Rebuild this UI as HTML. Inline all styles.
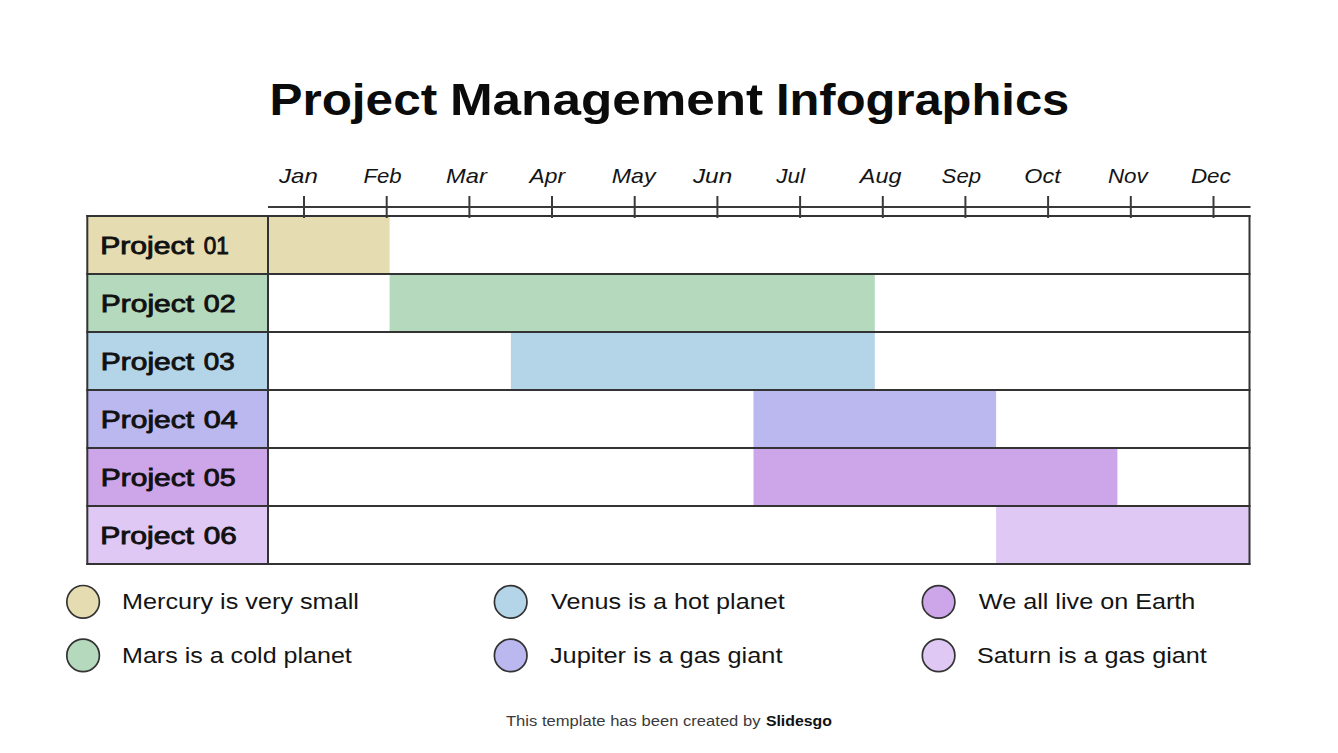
<!DOCTYPE html>
<html><head><meta charset="utf-8"><title>Project Management Infographics</title>
<style>
html,body{margin:0;padding:0;background:#fff;width:1338px;height:753px;overflow:hidden;}
svg{display:block;font-family:"Liberation Sans", sans-serif;}
</style></head><body>
<svg width="1338" height="753" viewBox="0 0 1338 753">
<rect width="1338" height="753" fill="#fff"/>
<rect x="87" y="216" width="181" height="58" fill="#E6DCB1"/>
<rect x="268.0" y="216" width="121.6" height="58" fill="#E6DCB1"/>
<rect x="87" y="274" width="181" height="58" fill="#B5D9BD"/>
<rect x="389.6" y="274" width="485.2" height="58" fill="#B5D9BD"/>
<rect x="87" y="332" width="181" height="58" fill="#B4D4E8"/>
<rect x="510.9" y="332" width="363.9" height="58" fill="#B4D4E8"/>
<rect x="87" y="390" width="181" height="58" fill="#BAB8EE"/>
<rect x="753.5" y="390" width="242.6" height="58" fill="#BAB8EE"/>
<rect x="87" y="448" width="181" height="58" fill="#CDA5E9"/>
<rect x="753.5" y="448" width="363.9" height="58" fill="#CDA5E9"/>
<rect x="87" y="506" width="181" height="58" fill="#DFC8F4"/>
<rect x="996.1" y="506" width="253.9" height="58" fill="#DFC8F4"/>
<line x1="86.3" y1="216" x2="1250.5" y2="216" stroke="#333" stroke-width="2"/>
<line x1="86.3" y1="274" x2="1250.5" y2="274" stroke="#333" stroke-width="2"/>
<line x1="86.3" y1="332" x2="1250.5" y2="332" stroke="#333" stroke-width="2"/>
<line x1="86.3" y1="390" x2="1250.5" y2="390" stroke="#333" stroke-width="2"/>
<line x1="86.3" y1="448" x2="1250.5" y2="448" stroke="#333" stroke-width="2"/>
<line x1="86.3" y1="506" x2="1250.5" y2="506" stroke="#333" stroke-width="2"/>
<line x1="86.3" y1="564" x2="1250.5" y2="564" stroke="#333" stroke-width="2"/>
<line x1="87.3" y1="215" x2="87.3" y2="565" stroke="#333" stroke-width="2"/>
<line x1="268" y1="215" x2="268" y2="565" stroke="#333" stroke-width="2"/>
<line x1="1249.5" y1="215" x2="1249.5" y2="565" stroke="#333" stroke-width="2"/>
<line x1="268" y1="207" x2="1250.5" y2="207" stroke="#3a3a3a" stroke-width="2"/>
<line x1="304.0" y1="196" x2="304.0" y2="218" stroke="#3a3a3a" stroke-width="2"/>
<line x1="386.7" y1="196" x2="386.7" y2="218" stroke="#3a3a3a" stroke-width="2"/>
<line x1="469.4" y1="196" x2="469.4" y2="218" stroke="#3a3a3a" stroke-width="2"/>
<line x1="552.0" y1="196" x2="552.0" y2="218" stroke="#3a3a3a" stroke-width="2"/>
<line x1="634.7" y1="196" x2="634.7" y2="218" stroke="#3a3a3a" stroke-width="2"/>
<line x1="717.4" y1="196" x2="717.4" y2="218" stroke="#3a3a3a" stroke-width="2"/>
<line x1="800.1" y1="196" x2="800.1" y2="218" stroke="#3a3a3a" stroke-width="2"/>
<line x1="882.8" y1="196" x2="882.8" y2="218" stroke="#3a3a3a" stroke-width="2"/>
<line x1="965.4" y1="196" x2="965.4" y2="218" stroke="#3a3a3a" stroke-width="2"/>
<line x1="1048.1" y1="196" x2="1048.1" y2="218" stroke="#3a3a3a" stroke-width="2"/>
<line x1="1130.8" y1="196" x2="1130.8" y2="218" stroke="#3a3a3a" stroke-width="2"/>
<line x1="1213.5" y1="196" x2="1213.5" y2="218" stroke="#3a3a3a" stroke-width="2"/>
<circle cx="83.1" cy="601.8" r="16.3" fill="#E6DCB1" stroke="#333" stroke-width="1.7"/>
<circle cx="83.1" cy="655.4" r="16.3" fill="#B5D9BD" stroke="#333" stroke-width="1.7"/>
<circle cx="510.7" cy="601.9" r="16.3" fill="#B4D4E8" stroke="#333" stroke-width="1.7"/>
<circle cx="510.7" cy="655.4" r="16.3" fill="#BAB8EE" stroke="#333" stroke-width="1.7"/>
<circle cx="938.6" cy="601.9" r="16.3" fill="#CDA5E9" stroke="#333" stroke-width="1.7"/>
<circle cx="938.6" cy="655.4" r="16.3" fill="#DFC8F4" stroke="#333" stroke-width="1.7"/>
<text x="269.42" y="115.4" font-size="45.2" font-weight="bold" font-style="normal" fill="#0b0b0b" textLength="167.72" lengthAdjust="spacingAndGlyphs">Project</text>
<text x="449.90" y="115.4" font-size="45.2" font-weight="bold" font-style="normal" fill="#0b0b0b" textLength="313.24" lengthAdjust="spacingAndGlyphs">Management</text>
<text x="775.92" y="115.4" font-size="45.2" font-weight="bold" font-style="normal" fill="#0b0b0b" textLength="293.42" lengthAdjust="spacingAndGlyphs">Infographics</text>
<text x="278.98" y="182.6" font-size="20.8" font-weight="normal" font-style="italic" fill="#141414" textLength="38.88" lengthAdjust="spacingAndGlyphs">Jan</text>
<text x="363.40" y="182.6" font-size="20.8" font-weight="normal" font-style="italic" fill="#141414" textLength="38.20" lengthAdjust="spacingAndGlyphs">Feb</text>
<text x="446.06" y="182.6" font-size="20.8" font-weight="normal" font-style="italic" fill="#141414" textLength="40.76" lengthAdjust="spacingAndGlyphs">Mar</text>
<text x="529.60" y="182.6" font-size="20.8" font-weight="normal" font-style="italic" fill="#141414" textLength="35.46" lengthAdjust="spacingAndGlyphs">Apr</text>
<text x="611.72" y="182.6" font-size="20.8" font-weight="normal" font-style="italic" fill="#141414" textLength="43.76" lengthAdjust="spacingAndGlyphs">May</text>
<text x="692.90" y="182.6" font-size="20.8" font-weight="normal" font-style="italic" fill="#141414" textLength="39.30" lengthAdjust="spacingAndGlyphs">Jun</text>
<text x="776.16" y="182.6" font-size="20.8" font-weight="normal" font-style="italic" fill="#141414" textLength="28.82" lengthAdjust="spacingAndGlyphs">Jul</text>
<text x="859.86" y="182.6" font-size="20.8" font-weight="normal" font-style="italic" fill="#141414" textLength="41.56" lengthAdjust="spacingAndGlyphs">Aug</text>
<text x="941.64" y="182.6" font-size="20.8" font-weight="normal" font-style="italic" fill="#141414" textLength="39.46" lengthAdjust="spacingAndGlyphs">Sep</text>
<text x="1024.38" y="182.6" font-size="20.8" font-weight="normal" font-style="italic" fill="#141414" textLength="36.26" lengthAdjust="spacingAndGlyphs">Oct</text>
<text x="1107.90" y="182.6" font-size="20.8" font-weight="normal" font-style="italic" fill="#141414" textLength="39.82" lengthAdjust="spacingAndGlyphs">Nov</text>
<text x="1190.90" y="182.6" font-size="20.8" font-weight="normal" font-style="italic" fill="#141414" textLength="39.94" lengthAdjust="spacingAndGlyphs">Dec</text>
<text x="100.28" y="254.15" font-size="24.6" font-weight="normal" font-style="normal" fill="#111" stroke="#111" stroke-width="0.9" textLength="93.70" lengthAdjust="spacingAndGlyphs">Project</text>
<text x="203.74" y="254.15" font-size="24.6" font-weight="normal" font-style="normal" fill="#111" stroke="#111" stroke-width="0.9" textLength="25.10" lengthAdjust="spacingAndGlyphs">01</text>
<text x="100.88" y="312.15" font-size="24.6" font-weight="normal" font-style="normal" fill="#111" stroke="#111" stroke-width="0.9" textLength="93.10" lengthAdjust="spacingAndGlyphs">Project</text>
<text x="203.74" y="312.15" font-size="24.6" font-weight="normal" font-style="normal" fill="#111" stroke="#111" stroke-width="0.9" textLength="31.86" lengthAdjust="spacingAndGlyphs">02</text>
<text x="100.88" y="370.15" font-size="24.6" font-weight="normal" font-style="normal" fill="#111" stroke="#111" stroke-width="0.9" textLength="93.10" lengthAdjust="spacingAndGlyphs">Project</text>
<text x="203.74" y="370.15" font-size="24.6" font-weight="normal" font-style="normal" fill="#111" stroke="#111" stroke-width="0.9" textLength="30.94" lengthAdjust="spacingAndGlyphs">03</text>
<text x="100.88" y="428.15" font-size="24.6" font-weight="normal" font-style="normal" fill="#111" stroke="#111" stroke-width="0.9" textLength="93.10" lengthAdjust="spacingAndGlyphs">Project</text>
<text x="203.74" y="428.15" font-size="24.6" font-weight="normal" font-style="normal" fill="#111" stroke="#111" stroke-width="0.9" textLength="33.84" lengthAdjust="spacingAndGlyphs">04</text>
<text x="100.88" y="486.15" font-size="24.6" font-weight="normal" font-style="normal" fill="#111" stroke="#111" stroke-width="0.9" textLength="93.10" lengthAdjust="spacingAndGlyphs">Project</text>
<text x="203.74" y="486.15" font-size="24.6" font-weight="normal" font-style="normal" fill="#111" stroke="#111" stroke-width="0.9" textLength="31.86" lengthAdjust="spacingAndGlyphs">05</text>
<text x="100.28" y="544.15" font-size="24.6" font-weight="normal" font-style="normal" fill="#111" stroke="#111" stroke-width="0.9" textLength="93.70" lengthAdjust="spacingAndGlyphs">Project</text>
<text x="203.74" y="544.15" font-size="24.6" font-weight="normal" font-style="normal" fill="#111" stroke="#111" stroke-width="0.9" textLength="33.02" lengthAdjust="spacingAndGlyphs">06</text>
<text x="122.02" y="608.9" font-size="22.2" font-weight="normal" font-style="normal" fill="#141414" textLength="236.86" lengthAdjust="spacingAndGlyphs">Mercury is very small</text>
<text x="122.02" y="662.9" font-size="22.2" font-weight="normal" font-style="normal" fill="#141414" textLength="229.82" lengthAdjust="spacingAndGlyphs">Mars is a cold planet</text>
<text x="551.00" y="608.9" font-size="22.2" font-weight="normal" font-style="normal" fill="#141414" textLength="233.66" lengthAdjust="spacingAndGlyphs">Venus is a hot planet</text>
<text x="549.90" y="662.9" font-size="22.2" font-weight="normal" font-style="normal" fill="#141414" textLength="232.60" lengthAdjust="spacingAndGlyphs">Jupiter is a gas giant</text>
<text x="978.82" y="608.9" font-size="22.2" font-weight="normal" font-style="normal" fill="#141414" textLength="216.56" lengthAdjust="spacingAndGlyphs">We all live on Earth</text>
<text x="977.04" y="662.9" font-size="22.2" font-weight="normal" font-style="normal" fill="#141414" textLength="229.80" lengthAdjust="spacingAndGlyphs">Saturn is a gas giant</text>
<text x="505.98" y="726.3" font-size="15.3" font-weight="normal" font-style="normal" fill="#3a3a3a" textLength="254.52" lengthAdjust="spacingAndGlyphs">This template has been created by</text>
<text x="765.90" y="726.3" font-size="15.3" font-weight="bold" font-style="normal" fill="#111" textLength="66.04" lengthAdjust="spacingAndGlyphs">Slidesgo</text>
</svg>
</body></html>
